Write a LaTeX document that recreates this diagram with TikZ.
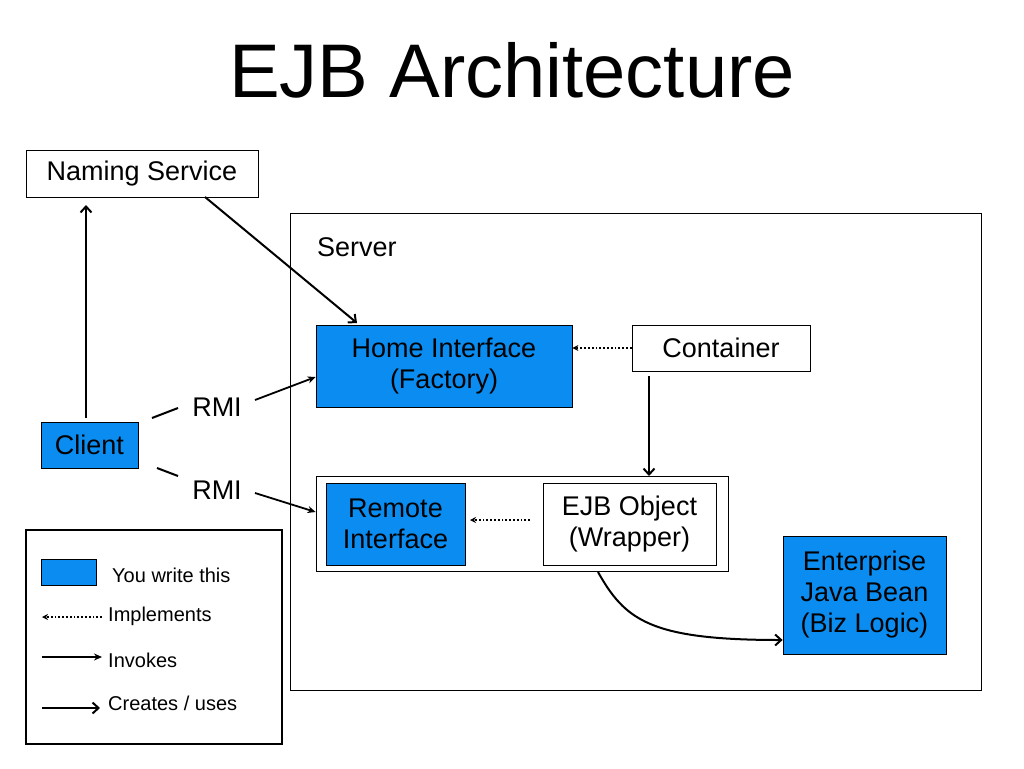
\documentclass[tikz,border=0pt]{standalone}
\usepackage{fontspec}
\setmainfont{Liberation Sans}
\usetikzlibrary{arrows.meta}
\definecolor{ejbblue}{RGB}{10,140,240}
\begin{document}
\begin{tikzpicture}[x=1pt,y=-1pt,
  txt/.style={font=\fontsize{27}{31}\selectfont,align=center},
  box/.style={draw,line width=0.8pt,inner sep=0,txt},
  blue/.style={box,fill=ejbblue},
  leg/.style={font=\fontsize{20}{24}\selectfont,anchor=west,inner sep=0},
  inv/.style={line width=1.8pt,-{Stealth[length=8pt,width=7pt]}},
  cre/.style={line width=2pt,-{Straight Barb[length=6pt,width=11pt,line width=2pt]}},
  impl/.style={line width=1.8pt,dotted,-{Stealth[length=6pt,width=6pt]}}]
\useasboundingbox (0,0) rectangle (1024,768);
\node[font=\fontsize{76}{80}\selectfont] (title) at (512,70) {EJB Architecture};
\node[box,minimum width=232,minimum height=47] (ns) at (142,173.5) {Naming Service};
\node[draw,line width=0.8pt,minimum width=691,minimum height=477,inner sep=0] (server) at (635.5,451.5) {};
\node[txt,anchor=west,inner sep=0] (slabel) at (317,247) {Server};
\node[blue,minimum width=256,minimum height=82] (home) at (444,366) {Home Interface\\(Factory)};
\node[box,minimum width=178,minimum height=46] (cont) at (721,348) {Container};
\node[blue,minimum width=97,minimum height=46] (client) at (89.5,445) {Client};
\node[draw,line width=0.8pt,minimum width=412,minimum height=95,inner sep=0] (grp) at (522,523.5) {};
\node[blue,minimum width=139,minimum height=82] (remote) at (395.5,524) {Remote\\Interface};
\node[box,minimum width=173,minimum height=82] (eo) at (629.5,524) {EJB Object\\(Wrapper)};
\node[blue,minimum width=163,minimum height=118] (bean) at (864.5,595) {Enterprise\\Java Bean\\(Biz Logic)};
\node[txt,inner sep=0] (rmi1) at (217,407) {RMI};
\node[txt,inner sep=0] (rmi2) at (217,490) {RMI};
% connectors
\draw[cre] (client.north -| 86,0) ++(0,-4) coordinate (c1) -- (86,205) coordinate (c2);
\coordinate (nsout) at (205,197);
\draw[cre] (nsout) -- (357,323) coordinate (homein);
\coordinate (r1a) at (152,418);
\draw[line width=2pt] (r1a) -- (178,408);
\draw[inv] (255,400) -- (home.west |- 0,377);
\coordinate (r2a) at (157,468);
\draw[line width=2pt] (r2a) -- (178,476);
\draw[inv] (255,493) -- (grp.west |- 0,512);
\draw[impl] (cont.west) -- (home.east |- cont.west);
\draw[cre] (649,376) -- (649,476) coordinate (grpin);
\draw[impl] (530,520) -- (470,520) coordinate (remin);
\draw[cre] (598,572) .. controls (625,620) and (650,640) .. (bean.west |- 0,640);
% legend
\node[draw,line width=2.5pt,minimum width=256,minimum height=214,inner sep=0] (legend) at (154,637) {};
\node[fill=ejbblue,draw,line width=0.6pt,minimum width=55,minimum height=26,inner sep=0] (lb) at (68.5,572) {};
\node[leg] (l1) at (112,575) {You write this};
\coordinate (li1) at (102,617);
\draw[impl] (li1) -- (42,617);
\node[leg] (l2) at (108,616) {Implements};
\coordinate (li2) at (42,657);
\draw[inv] (li2) -- (102,657);
\node[leg] (l3) at (108,660) {Invokes};
\coordinate (li3) at (42,708);
\draw[cre] (li3) -- (100,708);
\node[leg] (l4) at (108,703) {Creates / uses};
\end{tikzpicture}
\end{document}
